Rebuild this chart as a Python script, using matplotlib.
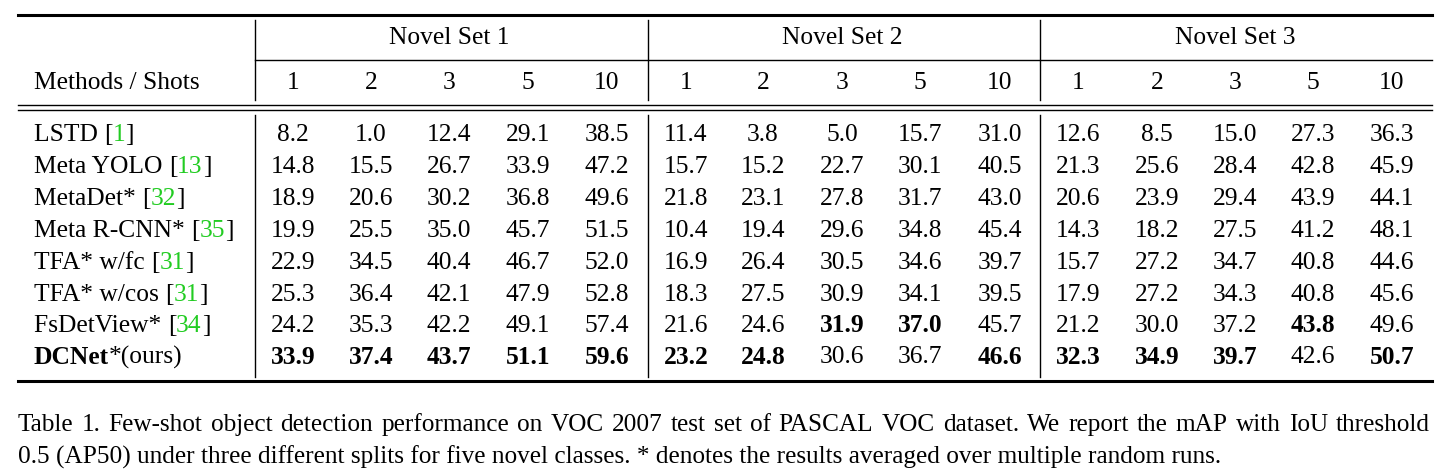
import matplotlib.pyplot as plt

plt.rcParams['font.family'] = ['Liberation Serif', 'DejaVu Serif']

methods = ["LSTD ", "Meta YOLO ", "MetaDet* ", "Meta R-CNN* ", "TFA* w/fc ", "TFA* w/cos ", "FsDetView* ", "DCNet"]
cites = ["1", "13", "32", "35", "31", "31", "34", None]
shots = ["1", "2", "3", "5", "10"]
sets = ["Novel Set 1", "Novel Set 2", "Novel Set 3"]
values = [
    [8.2, 1.0, 12.4, 29.1, 38.5, 11.4, 3.8, 5.0, 15.7, 31.0, 12.6, 8.5, 15.0, 27.3, 36.3],
    [14.8, 15.5, 26.7, 33.9, 47.2, 15.7, 15.2, 22.7, 30.1, 40.5, 21.3, 25.6, 28.4, 42.8, 45.9],
    [18.9, 20.6, 30.2, 36.8, 49.6, 21.8, 23.1, 27.8, 31.7, 43.0, 20.6, 23.9, 29.4, 43.9, 44.1],
    [19.9, 25.5, 35.0, 45.7, 51.5, 10.4, 19.4, 29.6, 34.8, 45.4, 14.3, 18.2, 27.5, 41.2, 48.1],
    [22.9, 34.5, 40.4, 46.7, 52.0, 16.9, 26.4, 30.5, 34.6, 39.7, 15.7, 27.2, 34.7, 40.8, 44.6],
    [25.3, 36.4, 42.1, 47.9, 52.8, 18.3, 27.5, 30.9, 34.1, 39.5, 17.9, 27.2, 34.3, 40.8, 45.6],
    [24.2, 35.3, 42.2, 49.1, 57.4, 21.6, 24.6, 31.9, 37.0, 45.7, 21.2, 30.0, 37.2, 43.8, 49.6],
    [33.9, 37.4, 43.7, 51.1, 59.6, 23.2, 24.8, 30.6, 36.7, 46.6, 32.3, 34.9, 39.7, 42.6, 50.7],
]
bold = {(6, 7), (6, 8), (6, 13)} | {(7, c) for c in [0, 1, 2, 3, 4, 5, 6, 9, 10, 11, 12, 14]}

fig = plt.figure(figsize=(14.4, 4.74), dpi=100)
ax = fig.add_axes([0, 0, 1, 1])
ax.set_xlim(0, 1440)
ax.set_ylim(474, 0)
ax.axis('off')

fs = 18.4
col_x = [293, 371, 449, 528, 607, 686, 763, 842, 920, 1000, 1078, 1157, 1235, 1313, 1392]
row_y = [135, 167, 199, 231, 263, 295, 326, 357]

# rules
ax.plot([18, 1432], [15, 15], color='black', lw=2.2)
ax.plot([255, 1432], [60, 60], color='black', lw=1)
ax.plot([18, 1432], [105, 105], color='black', lw=1)
ax.plot([18, 1432], [110, 110], color='black', lw=1)
ax.plot([18, 1432], [381, 381], color='black', lw=2.2)
for vx in [255, 648, 1040]:
    ax.plot([vx, vx], [20, 100], color='black', lw=1)
    ax.plot([vx, vx], [115, 377], color='black', lw=1)

for i, s in enumerate(sets):
    ax.text(col_x[i * 5 + 2], 38, s, fontsize=fs, ha='center', va='center')
ax.text(34, 83, "Methods / Shots", fontsize=fs, ha='left', va='center')
for j, x in enumerate(col_x):
    ax.text(x, 83, shots[j % 5], fontsize=fs, ha='center', va='center')

fig.canvas.draw()
r = fig.canvas.get_renderer()
inv = ax.transData.inverted()


def put(x, y, s, size=fs, **kw):
    t = ax.text(x, y, s, fontsize=size, ha='left', va='center', **kw)
    bb = t.get_window_extent(renderer=r)
    return inv.transform((bb.x1, bb.y0))[0]


for i, m in enumerate(methods):
    y = row_y[i]
    if cites[i] is None:
        x = put(34, y, m, fontweight='bold')
        put(x, y, "*(ours)")
    else:
        x = put(34, y, m)
        x = put(x, y, "[")
        x = put(x, y, cites[i], color='#22cc22')
        put(x, y, "]")
    for j, v in enumerate(values[i]):
        ax.text(col_x[j], y, f"{v:.1f}", fontsize=fs, ha='center', va='center',
                fontweight='bold' if (i, j) in bold else 'normal')

cap1 = "Table 1. Few-shot object detection performance on VOC 2007 test set of PASCAL VOC dataset. We report the mAP with IoU threshold"
cap2 = "0.5 (AP50) under three different splits for five novel classes. * denotes the results averaged over multiple random runs."
cfs = 18.2

# justify first caption line to the table width
words = cap1.split(" ")
widths = []
for w in words:
    t = ax.text(0, 0, w, fontsize=cfs)
    bb = t.get_window_extent(renderer=r)
    widths.append(inv.transform((bb.x1, bb.y0))[0] - inv.transform((bb.x0, bb.y0))[0])
    t.remove()
gap = (1430 - 18 - sum(widths)) / (len(words) - 1)
x = 18
for w, wd in zip(words, widths):
    ax.text(x, 425, w, fontsize=cfs, ha='left', va='center')
    x += wd + gap
ax.text(18, 457, cap2, fontsize=cfs, ha='left', va='center')

fig.savefig("out.png", dpi=100)
